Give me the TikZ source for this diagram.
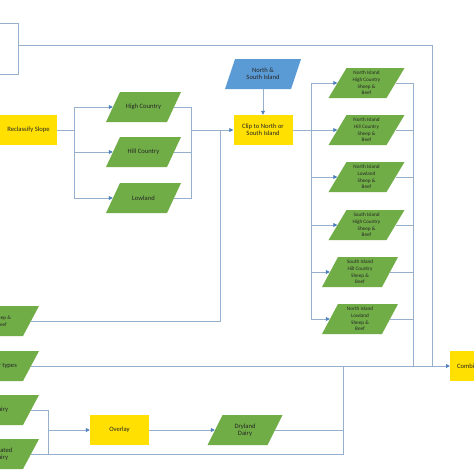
\documentclass[tikz,border=0pt]{standalone}
\usepackage{fontspec}
\setmainfont{Carlito}
\usetikzlibrary{arrows.meta}
\definecolor{gr}{RGB}{112,173,71}
\definecolor{yl}{RGB}{255,224,0}
\definecolor{bl}{RGB}{91,155,213}
\definecolor{ln}{RGB}{150,175,205}
\definecolor{ar}{RGB}{79,129,189}
\tikzset{
  conn/.style={draw=ln, line width=0.8pt},
  arr/.style={conn, -{Triangle[length=4pt,width=3.8pt,fill=ar,color=ar]}},
  bigtxt/.style={font=\fontsize{6.6}{7.2}\selectfont, text=black!85},
  smalltxt/.style={font=\fontsize{5.2}{6.8}\selectfont, text=black!85},
  procbox/.style={rectangle, fill=yl, minimum width=59pt, minimum height=30pt, inner sep=0pt, align=center, bigtxt},
  databox/.style={rectangle, minimum height=30pt, inner sep=0pt, align=center},
}
% #1 name, #2 cx, #3 cy, #4 half slant, #5 mid width, #6 colour, #7 text style, #8 text
\newcommand\paranode[8]{%
  \fill[#6] (#2-#5/2-#4,#3+15) -- (#2+#5/2-#4,#3+15) -- (#2+#5/2+#4,#3-15) -- (#2-#5/2+#4,#3-15) -- cycle;
  \node[databox, minimum width=#5pt, #7] (#1) at (#2,#3) {#8};}
\begin{document}
\begin{tikzpicture}[x=1pt,y=-1pt]
\useasboundingbox (0,0) rectangle (474,474);
\fill[white] (0,0) rectangle (474,474);
\clip (0,0) rectangle (474,474);

% nodes
\node[procbox, minimum width=57pt] (recl) at (28.5,130) {Reclassify Slope};
\paranode{hc}{143.5}{107}{7}{61}{gr}{bigtxt}{High Country}
\paranode{hill}{143.5}{152}{7}{61}{gr}{bigtxt}{Hill Country}
\paranode{low}{143.5}{198}{7}{61}{gr}{bigtxt}{Lowland}
\paranode{ns}{263}{74}{5}{66}{bl}{bigtxt}{North \&\\South Island}
\node[procbox] (clip) at (263,130) {Clip to North or\\South Island};
\paranode{r1}{366.5}{83}{9}{58}{gr}{smalltxt}{North Island\\High Country\\Sheep \&\\Beef}
\paranode{r2}{366.5}{130}{9}{58}{gr}{smalltxt}{North Island\\Hill Country\\Sheep \&\\Beef}
\paranode{r3}{366.5}{177}{9}{58}{gr}{smalltxt}{North Island\\Lowland\\Sheep \&\\Beef}
\paranode{r4}{366.5}{225}{9}{58}{gr}{smalltxt}{South Island\\High Country\\Sheep \&\\Beef}
\paranode{r5}{360}{272}{8}{60}{gr}{smalltxt}{South Island\\Hill Country\\Sheep \&\\Beef}
\paranode{r6}{360}{319}{8}{60}{gr}{smalltxt}{North Island\\Lowland\\Sheep \&\\Beef}
\paranode{lsb}{2}{321}{8}{58}{gr}{smalltxt}{Sheep \&\\Beef}
\paranode{ltypes}{1}{366}{8}{60}{gr}{bigtxt}{Other types}
\paranode{ldairy}{1}{410}{8}{60}{gr}{bigtxt}{Dairy}
\paranode{lirr}{1}{454}{8}{60}{gr}{bigtxt}{Irrigated\\Dairy}
\node[procbox] (overlay) at (119.5,430) {Overlay};
\paranode{dry}{245}{430}{7.5}{60}{gr}{bigtxt}{Dryland\\Dairy}
\node[procbox, anchor=west, text width=45pt, align=left, inner xsep=7pt] (comb) at (450,366) {Combine};

% junctions
\coordinate (tl1) at (-5,23);
\coordinate (tl2) at (-5,74);
\coordinate (jTa) at (18,23);
\coordinate (jTop) at (18,45);
\coordinate (jT2) at (432,366);
\coordinate (jR) at (74,130);
\coordinate (jL) at (191,130);
\coordinate (jS) at (220,130);
\coordinate (jC) at (311,130);
\coordinate (jRR) at (413,366);
\coordinate (jD) at (48,430);
\coordinate (jDB) at (48,454);
\coordinate (jB) at (343,454);
\coordinate (jB2) at (343,366);

% connectors
\draw[conn] (tl1) -- (jTa) |- (tl2);
\draw[conn] (jTop) -| (jT2);
\draw[conn] (recl.east) -- (jR);
\draw[arr] (jR) |- (hc.west);
\draw[arr] (jR) |- (hill.west);
\draw[arr] (jR) |- (low.west);
\draw[conn] (hc.east) -| (jL);
\draw[conn] (hill.east) -| (jL);
\draw[conn] (low.east) -| (jL);
\draw[arr] (jL) -- (clip.west);
\draw[conn] (lsb.east) -| (jS);
\draw[arr] (ns.south) -- (clip.north);
\draw[conn] (clip.east) -- (jC);
\draw[arr] (jC) |- (r1.west);
\draw[arr] (jC) -- (r2.west);
\draw[arr] (jC) |- (r3.west);
\draw[arr] (jC) |- (r4.west);
\draw[arr] (jC) |- (r5.west);
\draw[arr] (jC) |- (r6.west);
\foreach \r in {r1,r2,r3,r4,r5,r6} {\draw[conn] (\r.east) -| (jRR);}
\draw[arr] (ltypes.east) -- (comb.west);
\draw[conn] (ldairy.east) -| (jDB);
\draw[conn] (lirr.east) -- (jB) -- (jB2);
\draw[arr] (jD) -- (overlay.west);
\draw[arr] (overlay.east) -- (dry.west);
\draw[conn] (dry.east) -| (jB);
\end{tikzpicture}
\end{document}
